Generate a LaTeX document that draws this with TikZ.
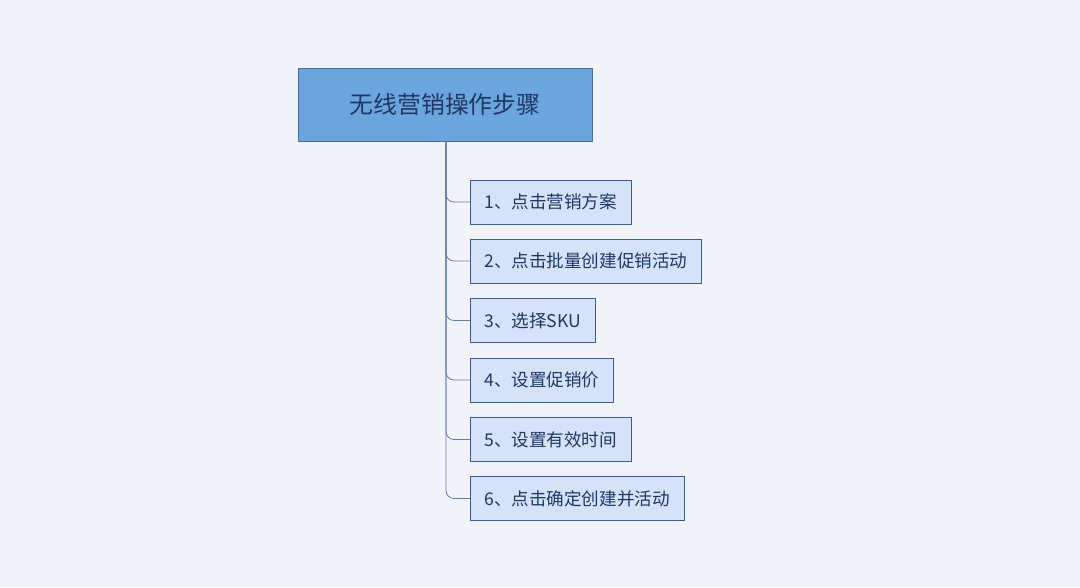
\documentclass[tikz,border=0pt]{standalone}
\usepackage{fontspec}
\setmainfont{Noto Sans CJK SC}
\usetikzlibrary{positioning}
\definecolor{bgcol}{HTML}{F1F3F9}
\definecolor{rootfill}{HTML}{6AA5DE}
\definecolor{rootdraw}{HTML}{41719C}
\definecolor{stepfill}{HTML}{D6E2FA}
\definecolor{stepdraw}{HTML}{3B5C95}
\definecolor{txtcol}{HTML}{1F3864}
\tikzstyle{rootbox} = [rectangle, draw=rootdraw, fill=rootfill, minimum width=7.35cm, minimum height=1.82cm, font=\fontsize{17}{20}\selectfont, text=txtcol, inner sep=0pt]
\tikzstyle{stepbox} = [rectangle, draw=stepdraw, fill=stepfill, minimum height=1.1cm, anchor=west, font=\fontsize{12.5}{15}\selectfont, text=txtcol, inner xsep=0.35cm]
\tikzstyle{link} = [draw=stepdraw!80, line width=0.6pt, rounded corners=0.2cm]

\begin{document}
\begin{tikzpicture}[x=0.025cm, y=-0.025cm]
\fill[bgcol] (0,0) rectangle (1080,587);

\node (root) [rootbox] at (445,104.5) {无线营销操作步骤};
\coordinate (trunk) at (446,141);

\node (s1) [stepbox] at (470,202) {1、点击营销方案};
\node (s2) [stepbox] at (470,261) {2、点击批量创建促销活动};
\node (s3) [stepbox] at (470,320.5) {3、选择SKU};
\node (s4) [stepbox] at (470,380) {4、设置促销价};
\node (s5) [stepbox] at (470,439.5) {5、设置有效时间};
\node (s6) [stepbox] at (470,498.5) {6、点击确定创建并活动};

%% connectors
\foreach \s in {s1,s2,s3,s4,s5,s6}
  \draw [link] (trunk) |- (\s.west);

\end{tikzpicture}
\end{document}
